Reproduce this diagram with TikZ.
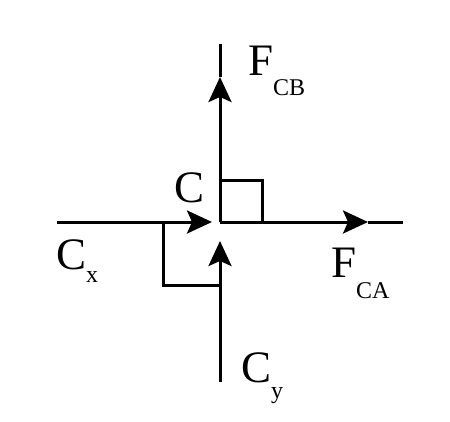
\documentclass[tikz,border=0pt]{standalone}
\usepackage{fontspec}
\setmainfont{Liberation Serif}
\usetikzlibrary{arrows.meta}
\newcommand\lsub[2]{\raisebox{-#1}{\fontsize{24}{24}\selectfont #2}}
\begin{document}
\begin{tikzpicture}[x=1pt,y=-1pt,
  line/.style={line width=3pt},
  head/.style={-{Stealth[length=25pt,width=23pt,inset=5pt]}},
  lbl/.style={anchor=base west,inner sep=0pt,font=\fontsize{45}{45}\selectfont}]
\useasboundingbox (0,0) rectangle (450,421);
\coordinate (C) at (220,222);
\coordinate (topTip) at (220,77);
\coordinate (topEnd) at (220,44);
\coordinate (rightTip) at (368,222);
\coordinate (rightEnd) at (403,222);
\coordinate (leftEnd) at (57,222);
\coordinate (leftTip) at (212,222);
\coordinate (botEnd) at (220,382);
\coordinate (botTip) at (220,241);
% lines and arrows
\draw[line,head] (C) -- (topTip);
\draw[line] (topTip) -- (topEnd);
\draw[line,head] (C) -- (rightTip);
\draw[line] (rightTip) -- (rightEnd);
\draw[line,head] (leftEnd) -- (leftTip);
\draw[line,head] (botEnd) -- (botTip);
% right-angle marks
\draw[line] (220,180) -- (262,180) -- (262,222);
\draw[line] (220,285) -- (163,285) -- (163,222);
% labels
\node[lbl] (fcb) at (248,75) {F\lsub{20pt}{CB}};
\node[lbl] (c) at (174,202) {C};
\node[lbl] (cx) at (56,269) {C\lsub{13pt}{x}};
\node[lbl] (fca) at (331,277) {F\lsub{21pt}{CA}};
\node[lbl] (cy) at (241,382) {C\lsub{16pt}{y}};
\end{tikzpicture}
\end{document}
